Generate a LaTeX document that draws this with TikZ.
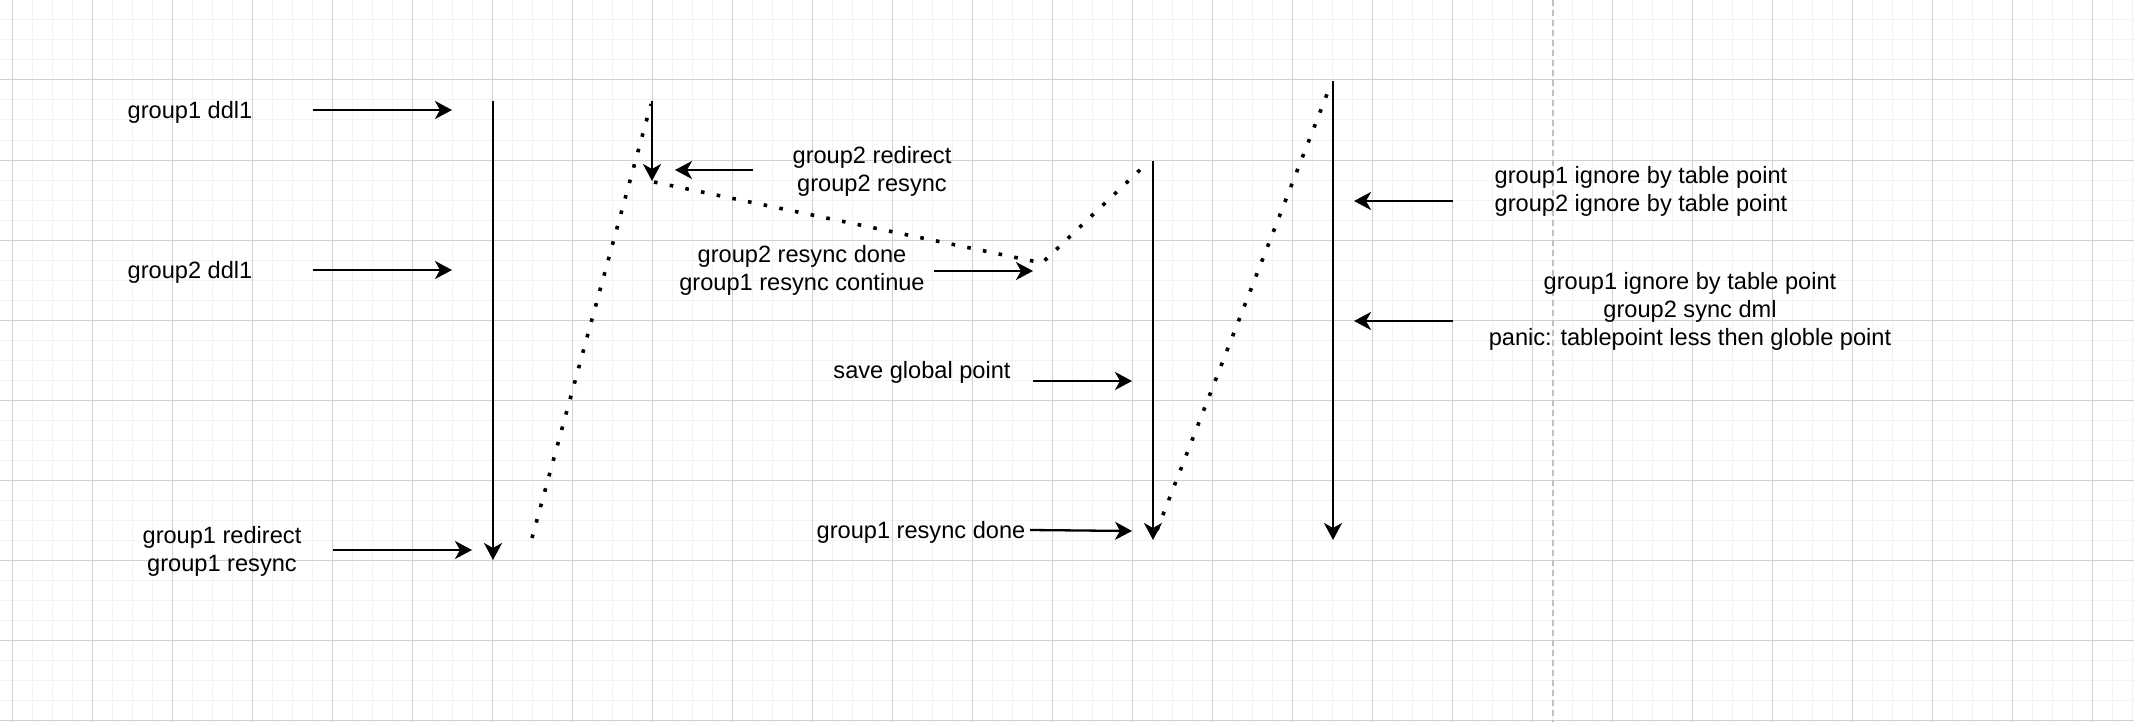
\documentclass[tikz,border=0pt]{standalone}
\usepackage{fontspec}
\setmainfont{Liberation Sans}
\usetikzlibrary{arrows.meta}
\definecolor{gridmajor}{HTML}{D0D0D0}
\definecolor{gridminor}{HTML}{F3F3F3}
\definecolor{pagebreak}{HTML}{C0C0C0}
\tikzset{
  minorline/.style={draw=gridminor,line width=0.5pt},
  majorline/.style={draw=gridmajor,line width=0.5pt},
  flowarrow/.style={draw=black,line width=1.15pt,-{Stealth[length=8.5pt,width=9pt,inset=2.5pt]}},
  dotline/.style={draw=black,line width=1.8pt,dash pattern=on 1.8pt off 6.2pt},
  lbl/.style={inner sep=0pt,align=center,font=\fontsize{11.8pt}{14pt}\selectfont}
}
\begin{document}
\begin{tikzpicture}[x=0.5pt,y=-0.5pt]
\useasboundingbox (0,0) rectangle (2134,722);
\fill[white] (0,0) rectangle (2134,722);
% grid
\foreach \i in {0,...,106} {\draw[minorline] ({12.5+20*\i},0) -- ({12.5+20*\i},722);}
\foreach \j in {0,...,36} {\draw[minorline] (0,{20*\j}) -- (2134,{20*\j});}
\foreach \i in {0,...,26} {\draw[majorline] ({12.5+80*\i},0) -- ({12.5+80*\i},722);}
\foreach \j in {0,...,9} {\draw[majorline] (0,{80*\j}) -- (2134,{80*\j});}
\draw[draw=pagebreak,line width=0.75pt,dash pattern=on 3pt off 2pt] (1553,0) -- (1553,722);

% coordinates
\coordinate (v1t) at (493,101);  \coordinate (v1b) at (493,560);
\coordinate (v2t) at (652,101);  \coordinate (v2b) at (652,181);
\coordinate (v3t) at (1153,161); \coordinate (v3b) at (1153,540);
\coordinate (v4t) at (1333,81);  \coordinate (v4b) at (1333,540);

\coordinate (d1a) at (532,538);  \coordinate (d1b) at (651,104);
\coordinate (d2a) at (654,182);  \coordinate (d2m) at (1042,263); \coordinate (d2b) at (1143,167);
\coordinate (d3a) at (1157,530); \coordinate (d3b) at (1329,89);

% texts
\node[lbl] (t1) at (190,112) {group1 ddl1};
\node[lbl] (t2) at (190,272) {group2 ddl1};
\node[lbl] (t3) at (222,551) {group1 redirect\\group1 resync};
\node[lbl] (t4) at (872,171) {group2 redirect\\group2 resync};
\node[lbl] (t5) at (802,270) {group2 resync done\\group1 resync continue};
\node[lbl] (t6) at (922,372) {save global point};
\node[lbl] (t7) at (921,532) {group1 resync done};
\node[lbl] (t8) at (1641,191) {group1 ignore by table point\\group2 ignore by table point};
\node[lbl] (t9) at (1690,311) {group1 ignore by table point\\group2 sync dml\\panic: tablepoint less then globle point};

% arrow endpoints
\coordinate (a1s) at (313,110);  \coordinate (a1e) at (452,110);
\coordinate (a2s) at (313,270);  \coordinate (a2e) at (452,270);
\coordinate (a3s) at (333,550);  \coordinate (a3e) at (472,550);
\coordinate (a4s) at (753,170);  \coordinate (a4e) at (675,170);
\coordinate (a5s) at (934,271);  \coordinate (a5e) at (1033,271);
\coordinate (a6s) at (1033,381); \coordinate (a6e) at (1132,381);
\coordinate (a7s) at (1030,530); \coordinate (a7e) at (1132,531);
\coordinate (a8s) at (1453,201); \coordinate (a8e) at (1354,201);
\coordinate (a9s) at (1453,321); \coordinate (a9e) at (1354,321);

% vertical timelines
\draw[flowarrow] (v1t) -- (v1b);
\draw[flowarrow] (v2t) -- (v2b);
\draw[flowarrow] (v3t) -- (v3b);
\draw[flowarrow] (v4t) -- (v4b);

% dotted
\draw[dotline] (d1a) -- (d1b);
\draw[dotline] (d2a) -- (d2m) -- (d2b);
\draw[dotline] (d3a) -- (d3b);

% arrows
\foreach \n in {1,...,9} {\draw[flowarrow] (a\n s) -- (a\n e);}
\end{tikzpicture}
\end{document}
